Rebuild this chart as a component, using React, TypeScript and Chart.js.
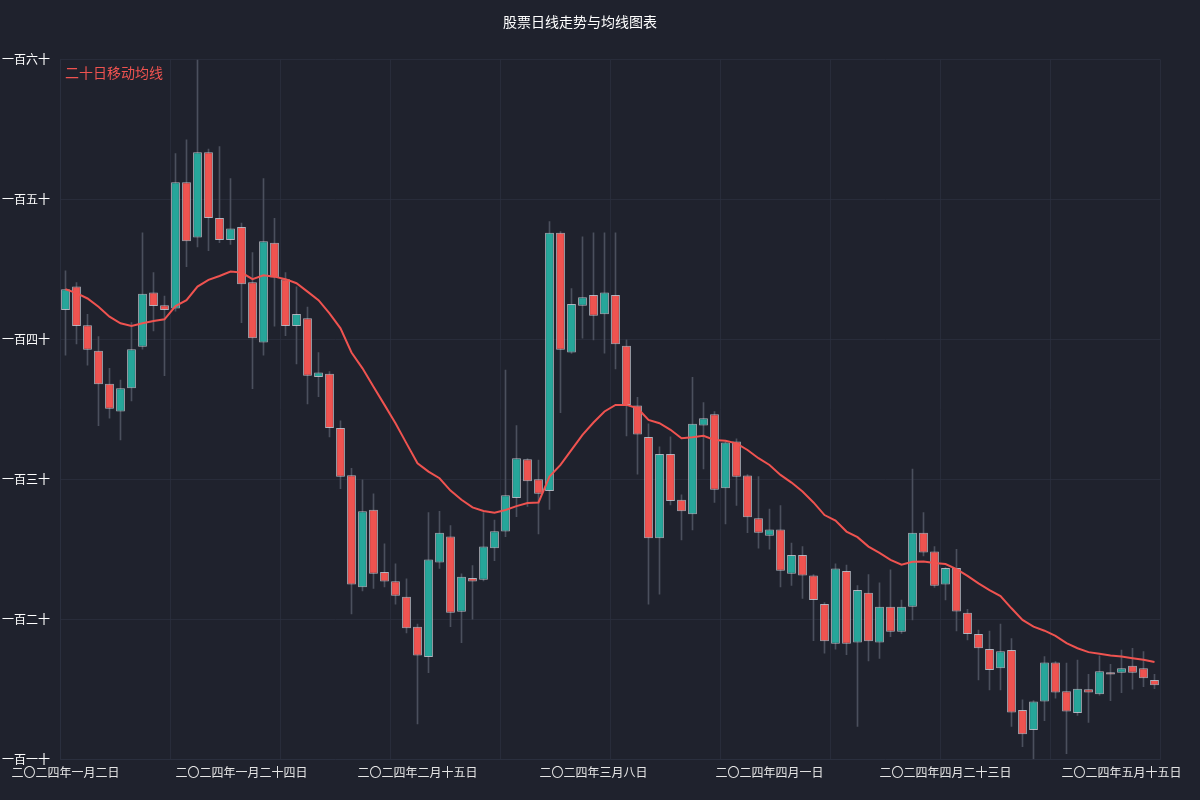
import { useEffect, useRef } from "react";
import { Chart, registerables } from "chart.js";

// Register Chart.js components
Chart.register(...registerables);

Chart.defaults.font.family = '"Noto Sans CJK SC", "Noto Sans", sans-serif';

const titleText = "股票日线走势与均线图表";
const maLabel = "二十日移动均线";
const yearLabel = "二〇二四年";

// trading days, Jan 2 - May 20
const dates = [
  "一月二日", "一月三日", "一月四日", "一月五日", "一月八日", "一月九日", "一月十日", "一月十一日", "一月十二日", "一月十五日",
  "一月十六日", "一月十七日", "一月十八日", "一月十九日", "一月二十二日", "一月二十三日", "一月二十四日", "一月二十五日", "一月二十六日", "一月二十九日",
  "一月三十日", "一月三十一日", "二月一日", "二月二日", "二月五日", "二月六日", "二月七日", "二月八日", "二月九日", "二月十二日",
  "二月十三日", "二月十四日", "二月十五日", "二月十六日", "二月十九日", "二月二十日", "二月二十一日", "二月二十二日", "二月二十三日", "二月二十六日",
  "二月二十七日", "二月二十八日", "二月二十九日", "三月一日", "三月四日", "三月五日", "三月六日", "三月七日", "三月八日", "三月十一日",
  "三月十二日", "三月十三日", "三月十四日", "三月十五日", "三月十八日", "三月十九日", "三月二十日", "三月二十一日", "三月二十二日", "三月二十五日",
  "三月二十六日", "三月二十七日", "三月二十八日", "三月二十九日", "四月一日", "四月二日", "四月三日", "四月四日", "四月五日", "四月八日",
  "四月九日", "四月十日", "四月十一日", "四月十二日", "四月十五日", "四月十六日", "四月十七日", "四月十八日", "四月十九日", "四月二十二日",
  "四月二十三日", "四月二十四日", "四月二十五日", "四月二十六日", "四月二十九日", "四月三十日", "五月一日", "五月二日", "五月三日", "五月六日",
  "五月七日", "五月八日", "五月九日", "五月十日", "五月十三日", "五月十四日", "五月十五日", "五月十六日", "五月十七日", "五月二十日",
];

const opens = [
  142.10, 143.78, 141.01, 139.19, 136.84, 134.85, 136.51, 139.49, 143.35, 142.44,
  142.22, 151.23, 147.29, 153.37, 148.67, 147.10, 148.03, 144.09, 139.78, 146.91,
  144.31, 140.96, 141.51, 137.32, 137.55, 133.67, 130.31, 122.31, 127.84, 123.39,
  122.74, 121.62, 119.49, 117.33, 124.07, 125.92, 120.56, 122.96, 122.84, 125.09,
  126.28, 128.67, 131.44, 130.02, 129.17, 147.62, 139.07, 142.41, 143.17, 141.80,
  143.17, 139.56, 135.28, 133.03, 125.81, 131.82, 128.55, 127.51, 133.85, 134.66,
  129.38, 132.72, 130.28, 127.23, 125.99, 126.42, 123.27, 124.60, 123.14, 121.10,
  118.26, 123.46, 118.35, 121.91, 118.35, 120.91, 119.13, 120.91, 126.20, 124.85,
  122.50, 123.67, 120.48, 118.97, 117.89, 116.51, 117.82, 113.54, 112.11, 114.14,
  116.92, 114.87, 113.33, 115.02, 114.66, 116.23, 116.20, 116.70, 116.51, 115.68,
];

const highs = [
  144.90, 144.06, 141.80, 140.20, 137.94, 137.10, 141.20, 147.62, 144.78, 143.10,
  153.28, 154.27, 159.97, 153.60, 153.78, 151.49, 148.32, 146.20, 151.49, 148.65,
  144.78, 143.76, 142.32, 139.07, 137.70, 134.19, 130.80, 129.97, 128.98, 125.40,
  123.98, 122.90, 119.68, 127.63, 127.73, 126.70, 123.27, 123.86, 127.63, 127.11,
  137.82, 133.85, 131.50, 131.39, 148.43, 147.70, 143.64, 147.34, 147.62, 147.62,
  147.62, 139.97, 135.87, 133.98, 132.34, 133.05, 128.91, 137.30, 135.49, 134.85,
  132.70, 132.91, 130.35, 130.21, 127.89, 128.14, 125.45, 125.21, 123.20, 121.20,
  123.98, 123.89, 122.43, 123.20, 122.62, 123.55, 121.39, 130.75, 127.63, 125.21,
  123.70, 125.02, 120.73, 119.25, 119.18, 119.68, 118.64, 114.26, 114.20, 117.35,
  117.00, 116.88, 117.11, 116.08, 117.40, 116.80, 117.82, 117.94, 117.70, 116.08,
];

const lows = [
  138.88, 139.68, 138.17, 133.85, 134.38, 132.82, 135.61, 139.31, 140.61, 137.41,
  142.03, 145.20, 146.62, 146.34, 146.91, 146.80, 141.20, 136.49, 138.88, 140.96,
  140.27, 138.26, 135.40, 135.92, 133.05, 129.35, 120.39, 122.05, 122.22, 122.33,
  121.10, 119.04, 112.55, 116.20, 123.64, 119.49, 118.35, 120.02, 122.75, 124.21,
  125.92, 127.34, 128.07, 126.11, 127.87, 134.78, 139.00, 140.09, 139.97, 139.02,
  137.89, 133.12, 130.38, 121.10, 121.81, 128.19, 125.69, 126.40, 130.75, 128.36,
  126.82, 128.14, 126.20, 125.09, 125.02, 122.33, 122.43, 121.51, 118.49, 117.60,
  117.88, 117.48, 112.36, 117.05, 117.22, 118.78, 119.00, 119.97, 124.55, 122.30,
  121.39, 119.18, 118.54, 115.68, 114.97, 114.97, 112.36, 110.92, 110.05, 112.78,
  114.38, 110.41, 113.14, 112.64, 114.60, 114.21, 114.78, 115.02, 115.20, 115.06,
];

const closes = [
  143.59, 140.96, 139.26, 136.80, 135.06, 136.51, 139.31, 143.26, 142.39, 142.10,
  151.23, 147.01, 153.37, 148.67, 147.10, 147.93, 143.95, 140.09, 147.01, 144.42,
  140.96, 141.82, 137.41, 137.65, 133.67, 130.19, 122.50, 127.73, 123.27, 122.72,
  121.69, 119.38, 117.43, 124.28, 126.20, 120.48, 123.05, 122.72, 125.21, 126.30,
  128.88, 131.52, 129.88, 128.98, 147.62, 139.26, 142.53, 143.01, 141.70, 143.35,
  139.66, 135.33, 133.22, 125.81, 131.82, 128.46, 127.73, 133.98, 134.38, 129.26,
  132.65, 130.19, 127.30, 126.20, 126.42, 123.48, 124.60, 123.14, 121.39, 118.45,
  123.64, 118.26, 122.10, 118.45, 120.91, 119.13, 120.91, 126.20, 124.78, 122.41,
  123.67, 120.58, 118.97, 117.94, 116.39, 117.73, 113.35, 111.81, 114.14, 116.92,
  114.78, 113.42, 115.06, 114.78, 116.30, 116.08, 116.51, 116.20, 115.80, 115.30,
];

const ma20 = [
  143.59, 143.31, 142.93, 142.34, 141.63, 141.16, 140.96, 141.16, 141.32, 141.44,
  142.39, 142.81, 143.78, 144.26, 144.54, 144.85, 144.78, 144.31, 144.59, 144.49,
  144.31, 144.02, 143.42, 142.81, 141.87, 140.80, 139.07, 137.94, 136.63, 135.33,
  134.02, 132.58, 131.16, 130.56, 130.09, 129.21, 128.55, 128.01, 127.75, 127.63,
  127.82, 128.10, 128.32, 128.36, 130.21, 131.04, 132.11, 133.19, 134.07, 134.86,
  135.33, 135.33, 135.09, 134.26, 134.02, 133.55, 132.94, 133.01, 133.12, 132.82,
  132.77, 132.58, 132.11, 131.52, 131.04, 130.33, 129.78, 129.14, 128.36, 127.46,
  127.06, 126.28, 125.88, 125.21, 124.76, 124.26, 123.91, 124.12, 124.14, 124.03,
  123.96, 123.60, 123.12, 122.58, 122.10, 121.67, 120.80, 119.97, 119.49, 119.20,
  118.83, 118.31, 117.95, 117.67, 117.55, 117.43, 117.36, 117.24, 117.12, 116.96,
];

const yTickValues = [110, 120, 130, 140, 150, 160];
const yTickLabels = ["一百一十", "一百二十", "一百三十", "一百四十", "一百五十", "一百六十"];

const labelEvery = 16;
const gridEvery = 10;

const UP = "#26a69a";
const DOWN = "#ef5350";
const WICK = "#4b505d";
const BG = "#1f222d";
const GRID = "rgba(44, 48, 64, 0.7)";

// MA name drawn inside the plot, top-left
const maLabelPlugin = {
  id: "maLabel",
  afterDraw(chart: Chart) {
    const { ctx, chartArea } = chart;
    ctx.save();
    ctx.font = '14px "Noto Sans CJK SC", sans-serif';
    ctx.fillStyle = DOWN;
    ctx.textBaseline = "middle";
    ctx.fillText(maLabel, chartArea.left + 5, chartArea.top + 13);
    ctx.restore();
  },
};

export default function App() {
  const canvasRef = useRef<HTMLCanvasElement>(null);

  useEffect(() => {
    const canvas = canvasRef.current;
    if (!canvas) return;

    const chart = new Chart(canvas, {
      type: "bar",
      data: {
        labels: dates,
        datasets: [
          {
            type: "line",
            label: maLabel,
            data: ma20,
            borderColor: DOWN,
            borderWidth: 2,
            pointRadius: 0,
            tension: 0,
            order: 1,
          },
          {
            type: "bar",
            label: "K线实体",
            data: opens.map((o, i) => [o, closes[i]]),
            backgroundColor: opens.map((o, i) => (closes[i] >= o ? UP : DOWN)),
            borderColor: "rgba(210, 214, 222, 0.8)",
            borderWidth: 1,
            borderSkipped: false,
            categoryPercentage: 1,
            barPercentage: 0.8,
            grouped: false,
            order: 2,
          },
          {
            type: "bar",
            label: "影线",
            data: lows.map((l, i) => [l, highs[i]]),
            backgroundColor: WICK,
            borderWidth: 0,
            barThickness: 1,
            grouped: false,
            order: 3,
          },
        ] as any,
      },
      options: {
        responsive: true,
        maintainAspectRatio: false,
        animation: false,
        layout: { padding: { left: 0, right: 40, top: 0, bottom: 0 } },
        plugins: {
          legend: { display: false },
          title: {
            display: true,
            text: titleText,
            color: "#ffffff",
            font: { size: 14, weight: "normal" },
            padding: { top: 13, bottom: 29.7 },
          },
        },
        scales: {
          x: {
            type: "category",
            offset: true,
            z: 1,
            grid: {
              offset: true,
              drawTicks: false,
              color: (c: any) =>
                c.index === undefined || c.index % gridEvery === 0 ? GRID : "transparent",
            },
            border: { color: GRID },
            ticks: {
              autoSkip: false,
              maxRotation: 0,
              padding: 6,
              color: "#e6e6e6",
              font: { size: 12 },
              callback: (_v: any, i: number) => (i % labelEvery === 0 ? yearLabel + dates[i] : ""),
            },
            afterFit: (s: any) => {
              s.height = 40.5;
            },
          },
          y: {
            min: 110,
            max: 160,
            z: 1,
            afterBuildTicks: (s: any) => {
              s.ticks = yTickValues.map((v) => ({ value: v }));
            },
            grid: { color: GRID, drawTicks: false },
            border: { color: GRID },
            ticks: {
              padding: 10,
              color: "#ffffff",
              font: { size: 12 },
              callback: (v: any) => yTickLabels[yTickValues.indexOf(Number(v))] ?? "",
            },
            afterFit: (s: any) => {
              s.width = 60;
            },
          },
        },
      },
      plugins: [maLabelPlugin],
    });

    return () => chart.destroy();
  }, []);

  return (
    <div style={{ position: "fixed", left: 0, top: 0, width: 1200, height: 800, background: BG }}>
      <canvas ref={canvasRef}></canvas>
    </div>
  );
}
